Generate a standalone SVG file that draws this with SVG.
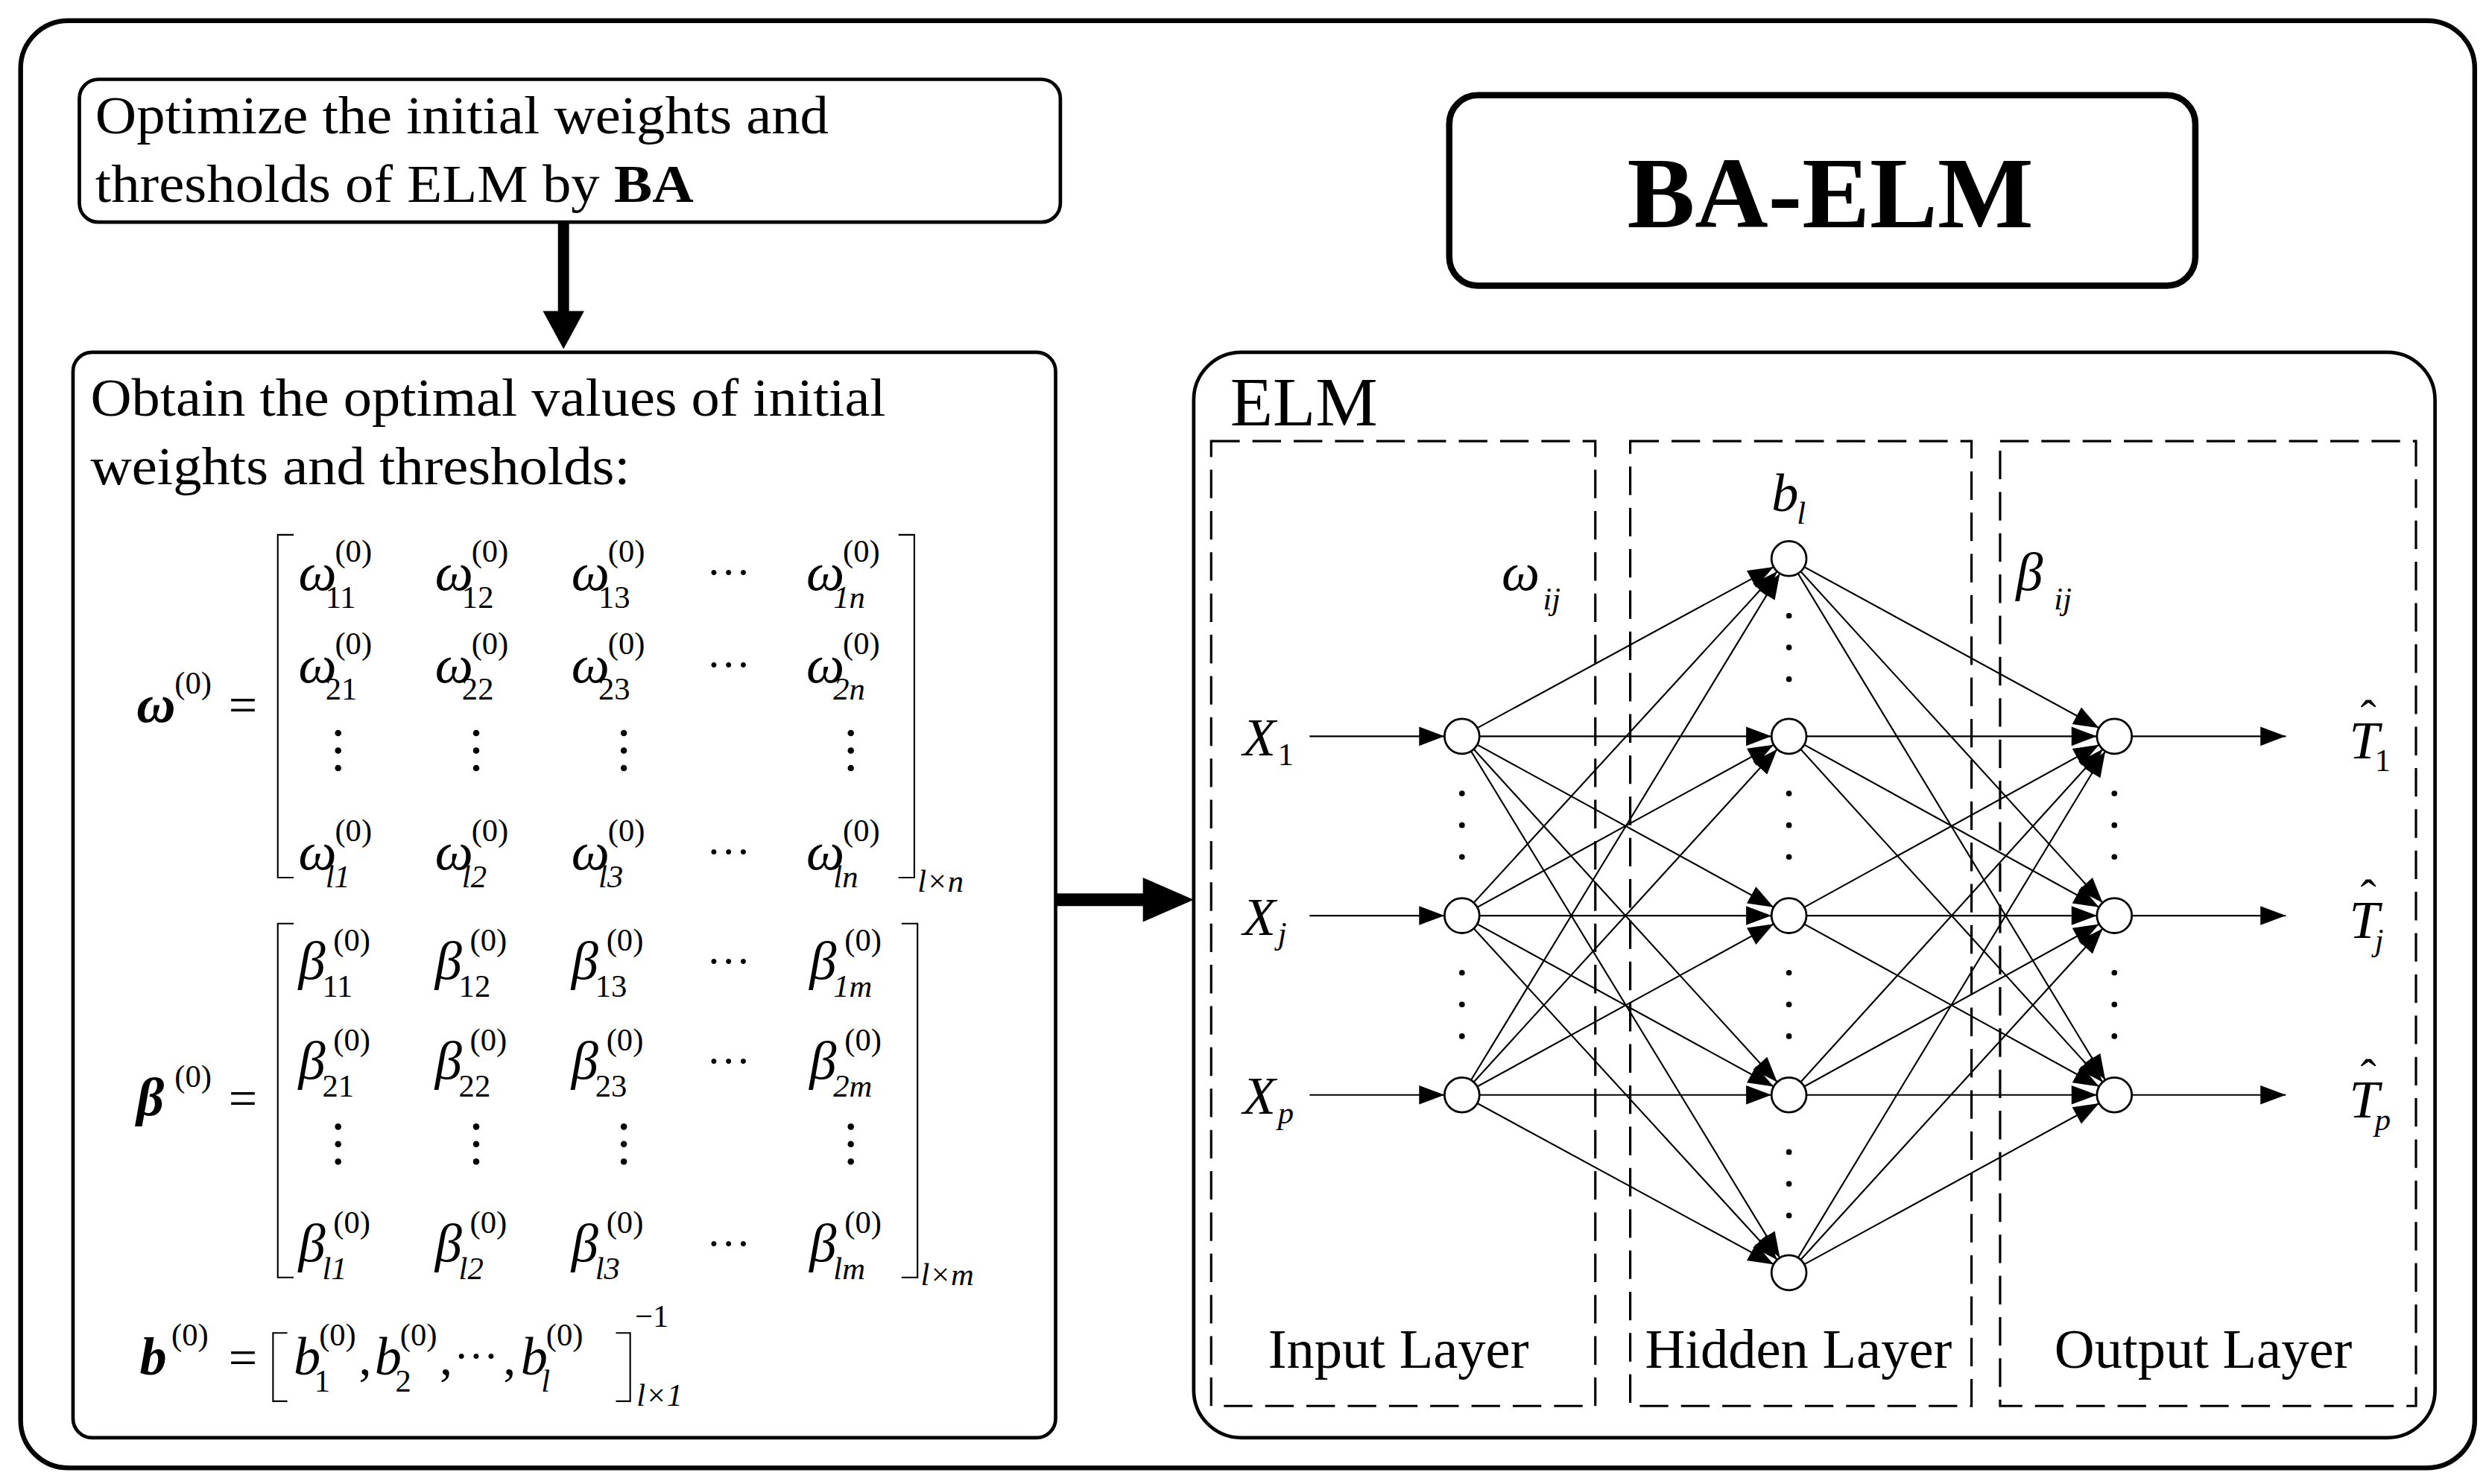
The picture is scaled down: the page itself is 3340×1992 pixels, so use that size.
<svg xmlns="http://www.w3.org/2000/svg" width="3340" height="1992" viewBox="0 0 3340 1992">
<style>
.t{font-family:"Liberation Serif",serif;fill:#000}
.m{font-family:"Liberation Serif",serif;font-style:italic;fill:#000;font-size:34px}
.sp{font-family:"Liberation Serif",serif;fill:#000;font-size:20px}
.sb{font-family:"Liberation Serif",serif;font-style:italic;fill:#000;font-size:20px}
.box{fill:none;stroke:#000;stroke-width:2.2}
.dash{fill:none;stroke:#000;stroke-width:1.5;stroke-dasharray:18 8}
.c{stroke:#000;stroke-width:1;fill:none}
.n{fill:#fff;stroke:#000;stroke-width:1.3}
</style>
<defs>
<marker id="ah" markerUnits="userSpaceOnUse" markerWidth="40" markerHeight="40" refX="11" refY="0" viewBox="-20 -10 40 20" orient="auto" overflow="visible"><path d="M-16,-6 L0,0 L-16,6 z" fill="#000"/></marker>
<marker id="ah2" markerUnits="userSpaceOnUse" markerWidth="40" markerHeight="40" refX="0" refY="0" viewBox="-20 -10 40 20" orient="auto" overflow="visible"><path d="M-16,-6 L0,0 L-16,6 z" fill="#000"/></marker>
</defs>
<rect width="3340" height="1992" fill="#fff"/>
<g transform="scale(2.1301)">
<rect x="13" y="13" width="1546" height="912" rx="30" fill="none" stroke="#000" stroke-width="3"/>
<g id="box-optimize">
<rect x="50" y="50" width="618" height="90" rx="12" class="box"/>
<text class="t" x="60" y="84" font-size="34" textLength="462" lengthAdjust="spacingAndGlyphs">Optimize the initial weights and</text>
<text class="t" x="60" y="127" font-size="34" textLength="377" lengthAdjust="spacingAndGlyphs">thresholds of ELM by <tspan font-weight="bold">BA</tspan></text>
</g>
<g id="box-baelm">
<rect x="913" y="60" width="470" height="120" rx="18" fill="none" stroke="#000" stroke-width="4"/>
<text class="t" x="1153" y="143" font-size="64" font-weight="bold" text-anchor="middle">BA-ELM</text>
</g>
<g id="box-obtain">
<rect x="46" y="222" width="619" height="684" rx="12" class="box"/>
<text class="t" x="57" y="262" font-size="34" textLength="501" lengthAdjust="spacingAndGlyphs">Obtain the optimal values of initial</text>
<text class="t" x="57" y="305" font-size="34" textLength="340" lengthAdjust="spacingAndGlyphs">weights and thresholds:</text>
<text class="m" x="86" y="455" font-weight="bold" font-size="36">ω</text><text class="sp" x="110" y="437">(0)</text><text class="t" x="144" y="455" font-size="32">=</text>
<path d="M185,337 H175 V553 H185 M566,337 H576 V553 H566" class="c" stroke-width="1.5"/>
<text class="m" x="188" y="372">ω</text><text class="sp" x="211" y="354">(0)</text><text class="sp" x="205" y="383">11</text>
<text class="m" x="274" y="372">ω</text><text class="sp" x="297" y="354">(0)</text><text class="sp" x="291" y="383">12</text>
<text class="m" x="360" y="372">ω</text><text class="sp" x="383" y="354">(0)</text><text class="sp" x="377" y="383">13</text>
<text class="t" x="445" y="370" font-size="28">···</text>
<text class="m" x="508" y="372">ω</text><text class="sp" x="531" y="354">(0)</text><text class="sb" x="525" y="383">1n</text>
<text class="m" x="188" y="430">ω</text><text class="sp" x="211" y="412">(0)</text><text class="sp" x="205" y="441">21</text>
<text class="m" x="274" y="430">ω</text><text class="sp" x="297" y="412">(0)</text><text class="sp" x="291" y="441">22</text>
<text class="m" x="360" y="430">ω</text><text class="sp" x="383" y="412">(0)</text><text class="sp" x="377" y="441">23</text>
<text class="t" x="445" y="428" font-size="28">···</text>
<text class="m" x="508" y="430">ω</text><text class="sp" x="531" y="412">(0)</text><text class="sb" x="525" y="441">2n</text>
<text class="m" x="188" y="548">ω</text><text class="sp" x="211" y="530">(0)</text><text class="sb" x="205" y="559">l1</text>
<text class="m" x="274" y="548">ω</text><text class="sp" x="297" y="530">(0)</text><text class="sb" x="291" y="559">l2</text>
<text class="m" x="360" y="548">ω</text><text class="sp" x="383" y="530">(0)</text><text class="sb" x="377" y="559">l3</text>
<text class="t" x="445" y="546" font-size="28">···</text>
<text class="m" x="508" y="548">ω</text><text class="sp" x="531" y="530">(0)</text><text class="sb" x="525" y="559">ln</text>
<text class="sb" x="578" y="562" font-size="18">l×n</text>
<g fill="#000">
<circle cx="213" cy="462" r="2"/><circle cx="213" cy="473" r="2"/><circle cx="213" cy="484" r="2"/>
<circle cx="300" cy="462" r="2"/><circle cx="300" cy="473" r="2"/><circle cx="300" cy="484" r="2"/>
<circle cx="393" cy="462" r="2"/><circle cx="393" cy="473" r="2"/><circle cx="393" cy="484" r="2"/>
<circle cx="536" cy="462" r="2"/><circle cx="536" cy="473" r="2"/><circle cx="536" cy="484" r="2"/>
<circle cx="213" cy="710" r="2"/><circle cx="213" cy="721" r="2"/><circle cx="213" cy="732" r="2"/>
<circle cx="300" cy="710" r="2"/><circle cx="300" cy="721" r="2"/><circle cx="300" cy="732" r="2"/>
<circle cx="393" cy="710" r="2"/><circle cx="393" cy="721" r="2"/><circle cx="393" cy="732" r="2"/>
<circle cx="536" cy="710" r="2"/><circle cx="536" cy="721" r="2"/><circle cx="536" cy="732" r="2"/>
</g>
<text class="m" x="86" y="703" font-weight="bold" font-size="36">β</text><text class="sp" x="110" y="685">(0)</text><text class="t" x="144" y="703" font-size="32">=</text>
<path d="M185,582 H175 V805 H185 M568,582 H578 V805 H568" class="c" stroke-width="1.5"/>
<text class="m" x="188" y="617">β</text><text class="sp" x="210" y="599">(0)</text><text class="sp" x="203" y="628">11</text>
<text class="m" x="274" y="617">β</text><text class="sp" x="296" y="599">(0)</text><text class="sp" x="289" y="628">12</text>
<text class="m" x="360" y="617">β</text><text class="sp" x="382" y="599">(0)</text><text class="sp" x="375" y="628">13</text>
<text class="t" x="445" y="615" font-size="28">···</text>
<text class="m" x="510" y="617">β</text><text class="sp" x="532" y="599">(0)</text><text class="sb" x="525" y="628">1m</text>
<text class="m" x="188" y="680">β</text><text class="sp" x="210" y="662">(0)</text><text class="sp" x="203" y="691">21</text>
<text class="m" x="274" y="680">β</text><text class="sp" x="296" y="662">(0)</text><text class="sp" x="289" y="691">22</text>
<text class="m" x="360" y="680">β</text><text class="sp" x="382" y="662">(0)</text><text class="sp" x="375" y="691">23</text>
<text class="t" x="445" y="678" font-size="28">···</text>
<text class="m" x="510" y="680">β</text><text class="sp" x="532" y="662">(0)</text><text class="sb" x="525" y="691">2m</text>
<text class="m" x="188" y="795">β</text><text class="sp" x="210" y="777">(0)</text><text class="sb" x="203" y="806">l1</text>
<text class="m" x="274" y="795">β</text><text class="sp" x="296" y="777">(0)</text><text class="sb" x="289" y="806">l2</text>
<text class="m" x="360" y="795">β</text><text class="sp" x="382" y="777">(0)</text><text class="sb" x="375" y="806">l3</text>
<text class="t" x="445" y="793" font-size="28">···</text>
<text class="m" x="510" y="795">β</text><text class="sp" x="532" y="777">(0)</text><text class="sb" x="525" y="806">lm</text>
<text class="sb" x="580" y="810" font-size="18">l×m</text>
<text class="m" x="88" y="866" font-weight="bold" font-size="36">b</text><text class="sp" x="108" y="848">(0)</text><text class="t" x="144" y="866" font-size="32">=</text>
<path d="M181,840 H172 V883 H181 M388,840 H397 V883 H388" class="c" stroke-width="1.5"/>
<text class="m" x="185" y="866">b</text><text class="sp" x="201" y="848">(0)</text><text class="sp" x="198" y="877">1</text><text class="t" x="226" y="866" font-size="32">,</text>
<text class="m" x="236" y="866">b</text><text class="sp" x="252" y="848">(0)</text><text class="sp" x="249" y="877">2</text><text class="t" x="277" y="866" font-size="32">,</text>
<text class="t" x="286" y="864" font-size="28">···</text><text class="t" x="317" y="866" font-size="32">,</text>
<text class="m" x="328" y="866">b</text><text class="sp" x="344" y="848">(0)</text><text class="sb" x="341" y="877">l</text>
<text class="sp" x="400" y="836">−1</text><text class="sb" x="401" y="886" font-size="18">l×1</text>
</g>
<g id="connectors-main" fill="#000" stroke="#000">
<path d="M355,140 V200" stroke-width="7"/><path d="M342,196 L368,196 L355,220 z" stroke="none"/>
<path d="M665,567 H725" stroke-width="8"/><path d="M720,553 L752,567 L720,581 z" stroke="none"/>
</g>
<g id="box-elm">
<rect x="752" y="222" width="782" height="684" rx="30" class="box"/>
<text class="t" x="775" y="268" font-size="44">ELM</text>
<rect x="763" y="278" width="242" height="608" class="dash"/>
<rect x="1027" y="278" width="215" height="608" class="dash"/>
<rect x="1260" y="278" width="262" height="608" class="dash"/>
<text class="t" x="881" y="862" font-size="35" text-anchor="middle">Input Layer</text>
<text class="t" x="1133" y="862" font-size="35" text-anchor="middle">Hidden Layer</text>
<text class="t" x="1388" y="862" font-size="35" text-anchor="middle">Output Layer</text>
<text class="m" x="946" y="372" font-size="30">ω</text><text class="sb" x="972" y="384" font-size="19">ij</text>
<text class="m" x="1116" y="322" font-size="32">b</text><text class="sb" x="1132" y="330" font-size="22">l</text>
<text class="m" x="1270" y="372" font-size="32">β</text><text class="sb" x="1294" y="384" font-size="19">ij</text>
<text class="m" x="783" y="476" font-size="34">X</text><text class="sp" x="805" y="482">1</text>
<text class="m" x="783" y="589" font-size="34">X</text><text class="sb" x="805" y="595">j</text>
<text class="m" x="783" y="702" font-size="34">X</text><text class="sb" x="805" y="708">p</text>
<text class="m" x="1480" y="478" font-size="34">T</text><text class="t" x="1487" y="462" font-size="30">ˆ</text><text class="sp" x="1496" y="486">1</text>
<text class="m" x="1480" y="591" font-size="34">T</text><text class="t" x="1487" y="575" font-size="30">ˆ</text><text class="sb" x="1496" y="599">j</text>
<text class="m" x="1480" y="704" font-size="34">T</text><text class="t" x="1487" y="688" font-size="30">ˆ</text><text class="sb" x="1496" y="712">p</text>
</g>
<g id="connectors" class="c">
<g marker-end="url(#ah2)">
<line x1="825" y1="464" x2="910" y2="464"/><line x1="825" y1="577" x2="910" y2="577"/><line x1="825" y1="690" x2="910" y2="690"/>
<line x1="1343" y1="464" x2="1440" y2="464"/><line x1="1343" y1="577" x2="1440" y2="577"/><line x1="1343" y1="690" x2="1440" y2="690"/>
</g>
<g marker-end="url(#ah)">
<line x1="921" y1="464" x2="1127" y2="352"/><line x1="921" y1="464" x2="1127" y2="464"/><line x1="921" y1="464" x2="1127" y2="577"/><line x1="921" y1="464" x2="1127" y2="690"/><line x1="921" y1="464" x2="1127" y2="802"/>
<line x1="921" y1="577" x2="1127" y2="352"/><line x1="921" y1="577" x2="1127" y2="464"/><line x1="921" y1="577" x2="1127" y2="577"/><line x1="921" y1="577" x2="1127" y2="690"/><line x1="921" y1="577" x2="1127" y2="802"/>
<line x1="921" y1="690" x2="1127" y2="352"/><line x1="921" y1="690" x2="1127" y2="464"/><line x1="921" y1="690" x2="1127" y2="577"/><line x1="921" y1="690" x2="1127" y2="690"/><line x1="921" y1="690" x2="1127" y2="802"/>
<line x1="1127" y1="352" x2="1332" y2="464"/><line x1="1127" y1="464" x2="1332" y2="464"/><line x1="1127" y1="577" x2="1332" y2="464"/><line x1="1127" y1="690" x2="1332" y2="464"/><line x1="1127" y1="802" x2="1332" y2="464"/>
<line x1="1127" y1="352" x2="1332" y2="577"/><line x1="1127" y1="464" x2="1332" y2="577"/><line x1="1127" y1="577" x2="1332" y2="577"/><line x1="1127" y1="690" x2="1332" y2="577"/><line x1="1127" y1="802" x2="1332" y2="577"/>
<line x1="1127" y1="352" x2="1332" y2="690"/><line x1="1127" y1="464" x2="1332" y2="690"/><line x1="1127" y1="577" x2="1332" y2="690"/><line x1="1127" y1="690" x2="1332" y2="690"/><line x1="1127" y1="802" x2="1332" y2="690"/>
</g>
</g>
<g id="nodes">
<circle id="in1" cx="921" cy="464" r="11" class="n"/><circle id="inj" cx="921" cy="577" r="11" class="n"/><circle id="inp" cx="921" cy="690" r="11" class="n"/>
<circle id="h1" cx="1127" cy="352" r="11" class="n"/><circle id="h2" cx="1127" cy="464" r="11" class="n"/><circle id="h3" cx="1127" cy="577" r="11" class="n"/><circle id="h4" cx="1127" cy="690" r="11" class="n"/><circle id="h5" cx="1127" cy="802" r="11" class="n"/>
<circle id="o1" cx="1332" cy="464" r="11" class="n"/><circle id="oj" cx="1332" cy="577" r="11" class="n"/><circle id="op" cx="1332" cy="690" r="11" class="n"/>
</g>
<g id="dots" fill="#000">
<circle cx="921" cy="500" r="1.8"/><circle cx="921" cy="520" r="1.8"/><circle cx="921" cy="540" r="1.8"/>
<circle cx="921" cy="613" r="1.8"/><circle cx="921" cy="633" r="1.8"/><circle cx="921" cy="653" r="1.8"/>
<circle cx="1332" cy="500" r="1.8"/><circle cx="1332" cy="520" r="1.8"/><circle cx="1332" cy="540" r="1.8"/>
<circle cx="1332" cy="613" r="1.8"/><circle cx="1332" cy="633" r="1.8"/><circle cx="1332" cy="653" r="1.8"/>
<circle cx="1127" cy="388" r="1.8"/><circle cx="1127" cy="408" r="1.8"/><circle cx="1127" cy="428" r="1.8"/>
<circle cx="1127" cy="500" r="1.8"/><circle cx="1127" cy="520" r="1.8"/><circle cx="1127" cy="540" r="1.8"/>
<circle cx="1127" cy="613" r="1.8"/><circle cx="1127" cy="633" r="1.8"/><circle cx="1127" cy="653" r="1.8"/>
<circle cx="1127" cy="726" r="1.8"/><circle cx="1127" cy="746" r="1.8"/><circle cx="1127" cy="766" r="1.8"/>
</g>
</g>
</svg>
